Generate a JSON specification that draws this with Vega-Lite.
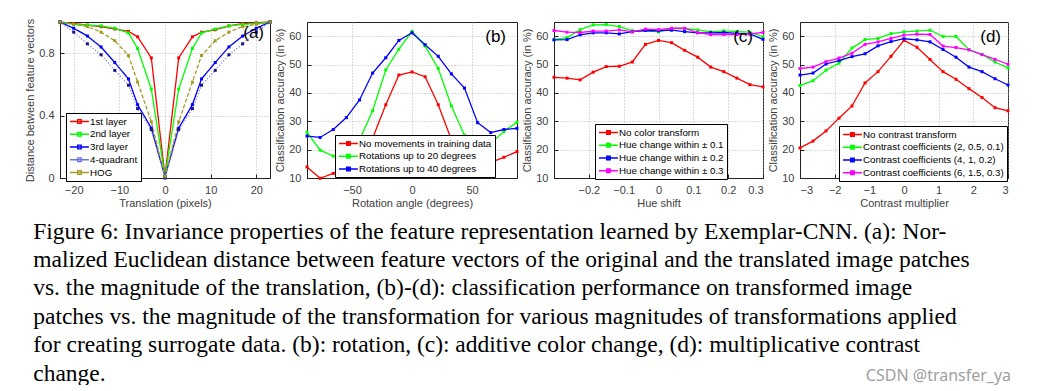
{
 "$schema": "https://vega.github.io/schema/vega-lite/v6.json",
 "background": "white",
 "padding": {"left": 24, "top": 17, "right": 0, "bottom": 0},
 "datasets": {
  "a": [
   {"x":-23,"y":1.0,"s":"1st layer"},{"x":-20,"y":0.99,"s":"1st layer"},{"x":-17,"y":0.98,"s":"1st layer"},{"x":-14,"y":0.97,"s":"1st layer"},{"x":-11,"y":0.955,"s":"1st layer"},{"x":-8,"y":0.94,"s":"1st layer"},{"x":-6,"y":0.905,"s":"1st layer"},{"x":-3,"y":0.77,"s":"1st layer"},{"x":0,"y":0.01,"s":"1st layer"},{"x":3,"y":0.77,"s":"1st layer"},{"x":6,"y":0.905,"s":"1st layer"},{"x":8,"y":0.935,"s":"1st layer"},{"x":11,"y":0.95,"s":"1st layer"},{"x":14,"y":0.975,"s":"1st layer"},{"x":17,"y":0.99,"s":"1st layer"},{"x":20,"y":0.995,"s":"1st layer"},{"x":23,"y":1.0,"s":"1st layer"},
   {"x":-23,"y":1.0,"s":"2nd layer"},{"x":-20,"y":0.985,"s":"2nd layer"},{"x":-17,"y":0.98,"s":"2nd layer"},{"x":-14,"y":0.975,"s":"2nd layer"},{"x":-11,"y":0.96,"s":"2nd layer"},{"x":-8,"y":0.93,"s":"2nd layer"},{"x":-6,"y":0.83,"s":"2nd layer"},{"x":-3,"y":0.57,"s":"2nd layer"},{"x":0,"y":0.01,"s":"2nd layer"},{"x":3,"y":0.57,"s":"2nd layer"},{"x":6,"y":0.83,"s":"2nd layer"},{"x":8,"y":0.93,"s":"2nd layer"},{"x":11,"y":0.955,"s":"2nd layer"},{"x":14,"y":0.975,"s":"2nd layer"},{"x":17,"y":0.985,"s":"2nd layer"},{"x":20,"y":0.99,"s":"2nd layer"},{"x":23,"y":1.0,"s":"2nd layer"},
   {"x":-23,"y":1.0,"s":"3rd layer"},{"x":-20,"y":0.96,"s":"3rd layer"},{"x":-17,"y":0.91,"s":"3rd layer"},{"x":-14,"y":0.84,"s":"3rd layer"},{"x":-11,"y":0.74,"s":"3rd layer"},{"x":-8,"y":0.635,"s":"3rd layer"},{"x":-6,"y":0.47,"s":"3rd layer"},{"x":-3,"y":0.32,"s":"3rd layer"},{"x":0,"y":0.01,"s":"3rd layer"},{"x":3,"y":0.32,"s":"3rd layer"},{"x":6,"y":0.47,"s":"3rd layer"},{"x":8,"y":0.635,"s":"3rd layer"},{"x":11,"y":0.74,"s":"3rd layer"},{"x":14,"y":0.84,"s":"3rd layer"},{"x":17,"y":0.91,"s":"3rd layer"},{"x":20,"y":0.96,"s":"3rd layer"},{"x":23,"y":1.0,"s":"3rd layer"},
   {"x":-23,"y":1.0,"s":"4-quadrant"},{"x":-20,"y":0.935,"s":"4-quadrant"},{"x":-17,"y":0.86,"s":"4-quadrant"},{"x":-14,"y":0.79,"s":"4-quadrant"},{"x":-11,"y":0.69,"s":"4-quadrant"},{"x":-8,"y":0.595,"s":"4-quadrant"},{"x":-6,"y":0.445,"s":"4-quadrant"},{"x":-3,"y":0.31,"s":"4-quadrant"},{"x":0,"y":0.0,"s":"4-quadrant"},{"x":3,"y":0.31,"s":"4-quadrant"},{"x":6,"y":0.445,"s":"4-quadrant"},{"x":8,"y":0.595,"s":"4-quadrant"},{"x":11,"y":0.69,"s":"4-quadrant"},{"x":14,"y":0.79,"s":"4-quadrant"},{"x":17,"y":0.86,"s":"4-quadrant"},{"x":20,"y":0.935,"s":"4-quadrant"},{"x":23,"y":1.0,"s":"4-quadrant"},
   {"x":-23,"y":1.0,"s":"HOG"},{"x":-20,"y":0.985,"s":"HOG"},{"x":-17,"y":0.97,"s":"HOG"},{"x":-14,"y":0.935,"s":"HOG"},{"x":-11,"y":0.88,"s":"HOG"},{"x":-8,"y":0.785,"s":"HOG"},{"x":-6,"y":0.615,"s":"HOG"},{"x":-3,"y":0.36,"s":"HOG"},{"x":0,"y":0.01,"s":"HOG"},{"x":3,"y":0.36,"s":"HOG"},{"x":6,"y":0.615,"s":"HOG"},{"x":8,"y":0.785,"s":"HOG"},{"x":11,"y":0.88,"s":"HOG"},{"x":14,"y":0.935,"s":"HOG"},{"x":17,"y":0.97,"s":"HOG"},{"x":20,"y":0.985,"s":"HOG"},{"x":23,"y":1.0,"s":"HOG"}
  ],
  "b": [
   {"x":-87.5,"y":13.9,"s":"No movements in training data"},{"x":-76.5625,"y":9.9,"s":"No movements in training data"},{"x":-65.625,"y":11.6,"s":"No movements in training data"},{"x":-54.6875,"y":14,"s":"No movements in training data"},{"x":-43.75,"y":18,"s":"No movements in training data"},{"x":-32.8125,"y":24,"s":"No movements in training data"},{"x":-21.875,"y":35.8,"s":"No movements in training data"},{"x":-10.9375,"y":46.3,"s":"No movements in training data"},{"x":0,"y":47.4,"s":"No movements in training data"},{"x":10.9375,"y":45.7,"s":"No movements in training data"},{"x":21.875,"y":35.8,"s":"No movements in training data"},{"x":32.8125,"y":23.5,"s":"No movements in training data"},{"x":43.75,"y":18,"s":"No movements in training data"},{"x":54.6875,"y":14,"s":"No movements in training data"},{"x":65.625,"y":15.5,"s":"No movements in training data"},{"x":76.5625,"y":17.3,"s":"No movements in training data"},{"x":87.5,"y":19.3,"s":"No movements in training data"},
   {"x":-87.5,"y":26.1,"s":"Rotations up to 20 degrees"},{"x":-76.5625,"y":19.8,"s":"Rotations up to 20 degrees"},{"x":-65.625,"y":17.7,"s":"Rotations up to 20 degrees"},{"x":-54.6875,"y":19.5,"s":"Rotations up to 20 degrees"},{"x":-43.75,"y":23.4,"s":"Rotations up to 20 degrees"},{"x":-32.8125,"y":33.7,"s":"Rotations up to 20 degrees"},{"x":-21.875,"y":48.1,"s":"Rotations up to 20 degrees"},{"x":-10.9375,"y":55.4,"s":"Rotations up to 20 degrees"},{"x":0,"y":61.7,"s":"Rotations up to 20 degrees"},{"x":10.9375,"y":56.5,"s":"Rotations up to 20 degrees"},{"x":21.875,"y":48.6,"s":"Rotations up to 20 degrees"},{"x":32.8125,"y":35.4,"s":"Rotations up to 20 degrees"},{"x":43.75,"y":25.1,"s":"Rotations up to 20 degrees"},{"x":54.6875,"y":22.5,"s":"Rotations up to 20 degrees"},{"x":65.625,"y":22.3,"s":"Rotations up to 20 degrees"},{"x":76.5625,"y":26.4,"s":"Rotations up to 20 degrees"},{"x":87.5,"y":29.7,"s":"Rotations up to 20 degrees"},
   {"x":-87.5,"y":24.8,"s":"Rotations up to 40 degrees"},{"x":-76.5625,"y":24.3,"s":"Rotations up to 40 degrees"},{"x":-65.625,"y":27.1,"s":"Rotations up to 40 degrees"},{"x":-54.6875,"y":31.3,"s":"Rotations up to 40 degrees"},{"x":-43.75,"y":37.5,"s":"Rotations up to 40 degrees"},{"x":-32.8125,"y":47.0,"s":"Rotations up to 40 degrees"},{"x":-21.875,"y":52.4,"s":"Rotations up to 40 degrees"},{"x":-10.9375,"y":58.5,"s":"Rotations up to 40 degrees"},{"x":0,"y":61.2,"s":"Rotations up to 40 degrees"},{"x":10.9375,"y":57.0,"s":"Rotations up to 40 degrees"},{"x":21.875,"y":52.9,"s":"Rotations up to 40 degrees"},{"x":32.8125,"y":46.7,"s":"Rotations up to 40 degrees"},{"x":43.75,"y":41.7,"s":"Rotations up to 40 degrees"},{"x":54.6875,"y":29.5,"s":"Rotations up to 40 degrees"},{"x":65.625,"y":26.0,"s":"Rotations up to 40 degrees"},{"x":76.5625,"y":27.1,"s":"Rotations up to 40 degrees"},{"x":87.5,"y":27.5,"s":"Rotations up to 40 degrees"}
  ],
  "c": [
   {"x":-0.3,"y":45.5,"s":"No color transform"},{"x":-0.2625,"y":45.2,"s":"No color transform"},{"x":-0.225,"y":44.6,"s":"No color transform"},{"x":-0.1875,"y":47.3,"s":"No color transform"},{"x":-0.15,"y":49.3,"s":"No color transform"},{"x":-0.1125,"y":49.4,"s":"No color transform"},{"x":-0.075,"y":50.9,"s":"No color transform"},{"x":-0.0375,"y":57.1,"s":"No color transform"},{"x":0,"y":58.5,"s":"No color transform"},{"x":0.0375,"y":57.7,"s":"No color transform"},{"x":0.075,"y":55.0,"s":"No color transform"},{"x":0.1125,"y":52.6,"s":"No color transform"},{"x":0.15,"y":49.1,"s":"No color transform"},{"x":0.1875,"y":47.5,"s":"No color transform"},{"x":0.225,"y":45.2,"s":"No color transform"},{"x":0.2625,"y":42.9,"s":"No color transform"},{"x":0.3,"y":42.1,"s":"No color transform"},
   {"x":-0.3,"y":58.8,"s":"Hue change within ± 0.1"},{"x":-0.2625,"y":59.5,"s":"Hue change within ± 0.1"},{"x":-0.225,"y":62.3,"s":"Hue change within ± 0.1"},{"x":-0.1875,"y":64.0,"s":"Hue change within ± 0.1"},{"x":-0.15,"y":64.1,"s":"Hue change within ± 0.1"},{"x":-0.1125,"y":63.4,"s":"Hue change within ± 0.1"},{"x":-0.075,"y":61.9,"s":"Hue change within ± 0.1"},{"x":-0.0375,"y":62.0,"s":"Hue change within ± 0.1"},{"x":0,"y":61.5,"s":"Hue change within ± 0.1"},{"x":0.0375,"y":62.7,"s":"Hue change within ± 0.1"},{"x":0.075,"y":62.7,"s":"Hue change within ± 0.1"},{"x":0.1125,"y":62.2,"s":"Hue change within ± 0.1"},{"x":0.15,"y":61.5,"s":"Hue change within ± 0.1"},{"x":0.1875,"y":61.9,"s":"Hue change within ± 0.1"},{"x":0.225,"y":61.6,"s":"Hue change within ± 0.1"},{"x":0.2625,"y":61.4,"s":"Hue change within ± 0.1"},{"x":0.3,"y":59.8,"s":"Hue change within ± 0.1"},
   {"x":-0.3,"y":58.7,"s":"Hue change within ± 0.2"},{"x":-0.2625,"y":58.8,"s":"Hue change within ± 0.2"},{"x":-0.225,"y":60.5,"s":"Hue change within ± 0.2"},{"x":-0.1875,"y":61.2,"s":"Hue change within ± 0.2"},{"x":-0.15,"y":61.2,"s":"Hue change within ± 0.2"},{"x":-0.1125,"y":60.8,"s":"Hue change within ± 0.2"},{"x":-0.075,"y":61.6,"s":"Hue change within ± 0.2"},{"x":-0.0375,"y":62.0,"s":"Hue change within ± 0.2"},{"x":0,"y":61.9,"s":"Hue change within ± 0.2"},{"x":0.0375,"y":62.1,"s":"Hue change within ± 0.2"},{"x":0.075,"y":61.6,"s":"Hue change within ± 0.2"},{"x":0.1125,"y":61.2,"s":"Hue change within ± 0.2"},{"x":0.15,"y":61.2,"s":"Hue change within ± 0.2"},{"x":0.1875,"y":61.3,"s":"Hue change within ± 0.2"},{"x":0.225,"y":61.0,"s":"Hue change within ± 0.2"},{"x":0.2625,"y":60.8,"s":"Hue change within ± 0.2"},{"x":0.3,"y":58.9,"s":"Hue change within ± 0.2"},
   {"x":-0.3,"y":62.0,"s":"Hue change within ± 0.3"},{"x":-0.2625,"y":61.4,"s":"Hue change within ± 0.3"},{"x":-0.225,"y":61.3,"s":"Hue change within ± 0.3"},{"x":-0.1875,"y":61.8,"s":"Hue change within ± 0.3"},{"x":-0.15,"y":61.8,"s":"Hue change within ± 0.3"},{"x":-0.1125,"y":62.2,"s":"Hue change within ± 0.3"},{"x":-0.075,"y":61.5,"s":"Hue change within ± 0.3"},{"x":-0.0375,"y":62.5,"s":"Hue change within ± 0.3"},{"x":0,"y":62.3,"s":"Hue change within ± 0.3"},{"x":0.0375,"y":62.8,"s":"Hue change within ± 0.3"},{"x":0.075,"y":62.8,"s":"Hue change within ± 0.3"},{"x":0.1125,"y":61.3,"s":"Hue change within ± 0.3"},{"x":0.15,"y":60.6,"s":"Hue change within ± 0.3"},{"x":0.1875,"y":60.6,"s":"Hue change within ± 0.3"},{"x":0.225,"y":60.6,"s":"Hue change within ± 0.3"},{"x":0.2625,"y":60.8,"s":"Hue change within ± 0.3"},{"x":0.3,"y":61.3,"s":"Hue change within ± 0.3"}
  ],
  "d": [
   {"x":-3,"y":20.6,"s":"No contrast transform"},{"x":-2.625,"y":23.0,"s":"No contrast transform"},{"x":-2.25,"y":26.6,"s":"No contrast transform"},{"x":-1.875,"y":31.1,"s":"No contrast transform"},{"x":-1.5,"y":35.4,"s":"No contrast transform"},{"x":-1.125,"y":43.5,"s":"No contrast transform"},{"x":-0.75,"y":47.5,"s":"No contrast transform"},{"x":-0.375,"y":52.9,"s":"No contrast transform"},{"x":0,"y":58.5,"s":"No contrast transform"},{"x":0.375,"y":56.1,"s":"No contrast transform"},{"x":0.75,"y":51.8,"s":"No contrast transform"},{"x":1.125,"y":47.5,"s":"No contrast transform"},{"x":1.5,"y":44.8,"s":"No contrast transform"},{"x":1.875,"y":41.5,"s":"No contrast transform"},{"x":2.25,"y":38.4,"s":"No contrast transform"},{"x":2.625,"y":34.8,"s":"No contrast transform"},{"x":3,"y":33.7,"s":"No contrast transform"},
   {"x":-3,"y":42.6,"s":"Contrast coefficients (2, 0.5, 0.1)"},{"x":-2.625,"y":44.3,"s":"Contrast coefficients (2, 0.5, 0.1)"},{"x":-2.25,"y":48.0,"s":"Contrast coefficients (2, 0.5, 0.1)"},{"x":-1.875,"y":50.5,"s":"Contrast coefficients (2, 0.5, 0.1)"},{"x":-1.5,"y":55.8,"s":"Contrast coefficients (2, 0.5, 0.1)"},{"x":-1.125,"y":58.8,"s":"Contrast coefficients (2, 0.5, 0.1)"},{"x":-0.75,"y":59.2,"s":"Contrast coefficients (2, 0.5, 0.1)"},{"x":-0.375,"y":60.9,"s":"Contrast coefficients (2, 0.5, 0.1)"},{"x":0,"y":61.5,"s":"Contrast coefficients (2, 0.5, 0.1)"},{"x":0.375,"y":61.8,"s":"Contrast coefficients (2, 0.5, 0.1)"},{"x":0.75,"y":62.1,"s":"Contrast coefficients (2, 0.5, 0.1)"},{"x":1.125,"y":59.9,"s":"Contrast coefficients (2, 0.5, 0.1)"},{"x":1.5,"y":59.9,"s":"Contrast coefficients (2, 0.5, 0.1)"},{"x":1.875,"y":55.2,"s":"Contrast coefficients (2, 0.5, 0.1)"},{"x":2.25,"y":53.6,"s":"Contrast coefficients (2, 0.5, 0.1)"},{"x":2.625,"y":50.9,"s":"Contrast coefficients (2, 0.5, 0.1)"},{"x":3,"y":48.8,"s":"Contrast coefficients (2, 0.5, 0.1)"},
   {"x":-3,"y":46.3,"s":"Contrast coefficients (4, 1, 0.2)"},{"x":-2.625,"y":47.0,"s":"Contrast coefficients (4, 1, 0.2)"},{"x":-2.25,"y":50.2,"s":"Contrast coefficients (4, 1, 0.2)"},{"x":-1.875,"y":51.4,"s":"Contrast coefficients (4, 1, 0.2)"},{"x":-1.5,"y":52.8,"s":"Contrast coefficients (4, 1, 0.2)"},{"x":-1.125,"y":53.8,"s":"Contrast coefficients (4, 1, 0.2)"},{"x":-0.75,"y":56.6,"s":"Contrast coefficients (4, 1, 0.2)"},{"x":-0.375,"y":58.1,"s":"Contrast coefficients (4, 1, 0.2)"},{"x":0,"y":59.1,"s":"Contrast coefficients (4, 1, 0.2)"},{"x":0.375,"y":58.7,"s":"Contrast coefficients (4, 1, 0.2)"},{"x":0.75,"y":58.0,"s":"Contrast coefficients (4, 1, 0.2)"},{"x":1.125,"y":55.3,"s":"Contrast coefficients (4, 1, 0.2)"},{"x":1.5,"y":52.6,"s":"Contrast coefficients (4, 1, 0.2)"},{"x":1.875,"y":49.1,"s":"Contrast coefficients (4, 1, 0.2)"},{"x":2.25,"y":47.5,"s":"Contrast coefficients (4, 1, 0.2)"},{"x":2.625,"y":45.0,"s":"Contrast coefficients (4, 1, 0.2)"},{"x":3,"y":42.8,"s":"Contrast coefficients (4, 1, 0.2)"},
   {"x":-3,"y":48.6,"s":"Contrast coefficients (6, 1.5, 0.3)"},{"x":-2.625,"y":49.1,"s":"Contrast coefficients (6, 1.5, 0.3)"},{"x":-2.25,"y":51.0,"s":"Contrast coefficients (6, 1.5, 0.3)"},{"x":-1.875,"y":52.3,"s":"Contrast coefficients (6, 1.5, 0.3)"},{"x":-1.5,"y":54.0,"s":"Contrast coefficients (6, 1.5, 0.3)"},{"x":-1.125,"y":57.1,"s":"Contrast coefficients (6, 1.5, 0.3)"},{"x":-0.75,"y":58.0,"s":"Contrast coefficients (6, 1.5, 0.3)"},{"x":-0.375,"y":59.2,"s":"Contrast coefficients (6, 1.5, 0.3)"},{"x":0,"y":60.4,"s":"Contrast coefficients (6, 1.5, 0.3)"},{"x":0.375,"y":60.7,"s":"Contrast coefficients (6, 1.5, 0.3)"},{"x":0.75,"y":60.6,"s":"Contrast coefficients (6, 1.5, 0.3)"},{"x":1.125,"y":56.5,"s":"Contrast coefficients (6, 1.5, 0.3)"},{"x":1.5,"y":56.0,"s":"Contrast coefficients (6, 1.5, 0.3)"},{"x":1.875,"y":55.2,"s":"Contrast coefficients (6, 1.5, 0.3)"},{"x":2.25,"y":53.5,"s":"Contrast coefficients (6, 1.5, 0.3)"},{"x":2.625,"y":51.8,"s":"Contrast coefficients (6, 1.5, 0.3)"},{"x":3,"y":50.1,"s":"Contrast coefficients (6, 1.5, 0.3)"}
  ]
 },
 "title": {"text": "CSDN @transfer_ya", "orient": "bottom", "anchor": "end", "font": "Noto Sans", "fontSize": 16, "fontWeight": "normal", "color": "#a0a0a0", "offset": -17, "dx": 0},
 "vconcat": [
  {
   "title": {"text": [
     "Figure 6: Invariance properties of the feature representation learned by Exemplar-CNN. (a): Nor-",
     "malized Euclidean distance between feature vectors of the original and the translated image patches",
     "vs. the magnitude of the translation, (b)-(d): classification performance on transformed image",
     "patches vs. the magnitude of the transformation for various magnitudes of transformations applied",
     "for creating surrogate data. (b): rotation, (c): additive color change, (d): multiplicative contrast",
     "change."],
     "orient": "bottom", "anchor": "start", "font": "Liberation Serif", "fontSize": 23.5, "fontWeight": "normal", "color": "black", "lineHeight": 28.4, "offset": 11, "dx": 9},
   "spacing": 37,
   "bounds": "flush",
   "resolve": {"scale": {"x": "independent", "y": "independent", "color": "independent", "strokeDash": "independent"}, "legend": {"color": "independent", "strokeDash": "independent"}},
   "hconcat": [
    {
     "width": 210, "height": 156,
     "title": {"text": "(a)", "orient": "top", "anchor": "end", "frame": "group", "font": "Liberation Sans", "fontSize": 17, "fontWeight": "normal", "color": "black", "offset": -24, "dx": -6},
     "data": {"name": "a"},
     "resolve": {"scale": {"color": "independent"}, "legend": {"color": "independent"}},
     "layer": [
      {"mark": {"type": "line", "strokeWidth": 1.3},
       "encoding": {
        "x": {"field": "x", "type": "quantitative", "scale": {"domain": [-23, 23], "nice": false, "zero": false}, "axis": {"values": [-20, -10, 0, 10, 20], "labelOverlap": false, "title": "Translation (pixels)"}},
        "y": {"field": "y", "type": "quantitative", "scale": {"domain": [0, 1], "nice": false}, "axis": {"values": [0, 0.2, 0.4, 0.6, 0.8, 1], "labelOverlap": false, "format": "~g", "title": "Distance between feature vectors"}},
        "color": {"field": "s", "type": "nominal", "scale": {"domain": ["1st layer", "2nd layer", "3rd layer", "4-quadrant", "HOG"], "range": ["#ff0000", "#00ff00", "#0000ff", "#6f6fe6", "#a59c25"]}, "legend": {"title": null, "orient": "none", "legendX": 6, "legendY": 91}},
        "strokeDash": {"field": "s", "type": "nominal", "scale": {"domain": ["1st layer", "2nd layer", "3rd layer", "4-quadrant", "HOG"], "range": [[1, 0], [1, 0], [1, 0], [1, 2], [4, 2]]}, "legend": {"title": null, "orient": "none", "legendX": 6, "legendY": 91}}
       }},
      {"mark": {"type": "point", "shape": "square", "filled": true, "size": 9, "opacity": 1},
       "encoding": {
        "x": {"field": "x", "type": "quantitative"},
        "y": {"field": "y", "type": "quantitative"},
        "color": {"field": "s", "type": "nominal", "scale": {"domain": ["1st layer", "2nd layer", "3rd layer", "4-quadrant", "HOG"], "range": ["#ff0000", "#00ff00", "#0000ff", "#14148a", "#a59c25"]}, "legend": null}
       }}
     ]
    },
    {
     "width": 210, "height": 156,
     "title": {"text": "(b)", "orient": "top", "anchor": "end", "frame": "group", "font": "Liberation Sans", "fontSize": 17, "fontWeight": "normal", "color": "black", "offset": -24, "dx": -11},
     "data": {"name": "b"},
     "mark": {"type": "line", "strokeWidth": 1.3, "point": {"shape": "square", "filled": true, "size": 9}},
     "encoding": {
      "x": {"field": "x", "type": "quantitative", "scale": {"domain": [-87.5, 87.5], "nice": false, "zero": false}, "axis": {"values": [-50, 0, 50], "labelOverlap": false, "title": "Rotation angle (degrees)"}},
      "y": {"field": "y", "type": "quantitative", "scale": {"domain": [10, 65], "nice": false, "zero": false}, "axis": {"values": [10, 20, 30, 40, 50, 60], "labelOverlap": false, "title": "Classification accuracy (in %)"}},
      "color": {"field": "s", "type": "nominal", "scale": {"domain": ["No movements in training data", "Rotations up to 20 degrees", "Rotations up to 40 degrees"], "range": ["#ff0000", "#00ff00", "#0000ff"]}, "legend": {"title": null, "orient": "none", "legendX": 28, "legendY": 113}}
     }
    },
    {
     "width": 209, "height": 156,
     "title": {"text": "(c)", "orient": "top", "anchor": "end", "frame": "group", "font": "Liberation Sans", "fontSize": 17, "fontWeight": "normal", "color": "black", "offset": -24, "dx": -10},
     "data": {"name": "c"},
     "mark": {"type": "line", "strokeWidth": 1.3, "point": {"shape": "square", "filled": true, "size": 9}},
     "encoding": {
      "x": {"field": "x", "type": "quantitative", "scale": {"domain": [-0.3, 0.3], "nice": false, "zero": false}, "axis": {"values": [-0.2, -0.1, 0, 0.1, 0.2, 0.3], "labelOverlap": false, "format": "~g", "title": "Hue shift"}},
      "y": {"field": "y", "type": "quantitative", "scale": {"domain": [10, 65], "nice": false, "zero": false}, "axis": {"values": [10, 20, 30, 40, 50, 60], "labelOverlap": false, "title": "Classification accuracy (in %)"}},
      "color": {"field": "s", "type": "nominal", "scale": {"domain": ["No color transform", "Hue change within ± 0.1", "Hue change within ± 0.2", "Hue change within ± 0.3"], "range": ["#ff0000", "#00ff00", "#0000ff", "#ff00ff"]}, "legend": {"title": null, "orient": "none", "legendX": 41, "legendY": 102}}
     }
    },
    {
     "width": 208, "height": 156,
     "title": {"text": "(d)", "orient": "top", "anchor": "end", "frame": "group", "font": "Liberation Sans", "fontSize": 17, "fontWeight": "normal", "color": "black", "offset": -24, "dx": -7},
     "data": {"name": "d"},
     "mark": {"type": "line", "strokeWidth": 1.3, "point": {"shape": "square", "filled": true, "size": 9}},
     "encoding": {
      "x": {"field": "x", "type": "quantitative", "scale": {"domain": [-3, 3], "nice": false, "zero": false}, "axis": {"values": [-3, -2, -1, 0, 1, 2, 3], "labelOverlap": false, "title": "Contrast multiplier"}},
      "y": {"field": "y", "type": "quantitative", "scale": {"domain": [10, 65], "nice": false, "zero": false}, "axis": {"values": [10, 20, 30, 40, 50, 60], "labelOverlap": false, "title": "Classification accuracy (in %)"}},
      "color": {"field": "s", "type": "nominal", "scale": {"domain": ["No contrast transform", "Contrast coefficients (2, 0.5, 0.1)", "Contrast coefficients (4, 1, 0.2)", "Contrast coefficients (6, 1.5, 0.3)"], "range": ["#ff0000", "#00ff00", "#0000ff", "#ff00ff"]}, "legend": {"title": null, "orient": "none", "legendX": 39, "legendY": 104}}
     }
    }
   ]
  }
 ],
 "config": {
  "view": {"stroke": "#222222", "strokeWidth": 1},
  "axis": {"labelFont": "Liberation Sans", "labelFontSize": 11, "labelColor": "#404040", "labelOverlap": false, "titleFont": "Liberation Sans", "titleFontSize": 11, "titleFontWeight": "normal", "titleColor": "#404040", "grid": true, "gridDash": [1, 2], "gridColor": "#a8a8a8", "gridOpacity": 0.8, "domainColor": "#222222", "tickColor": "#222222", "tickSize": -4, "labelPadding": 10},
  "axisX": {"titlePadding": 2},
  "axisY": {"titlePadding": 3},
  "legend": {"padding": 3, "strokeColor": "black", "fillColor": "white", "labelFont": "Liberation Sans", "labelFontSize": 9.75, "labelColor": "black", "rowPadding": 1.75, "symbolType": "M-1,0H3.2M0.7,-0.4H1.5V0.4H0.7Z", "symbolSize": 81, "symbolStrokeWidth": 1.3, "labelOffset": 10, "labelLimit": 300}
 }
}
